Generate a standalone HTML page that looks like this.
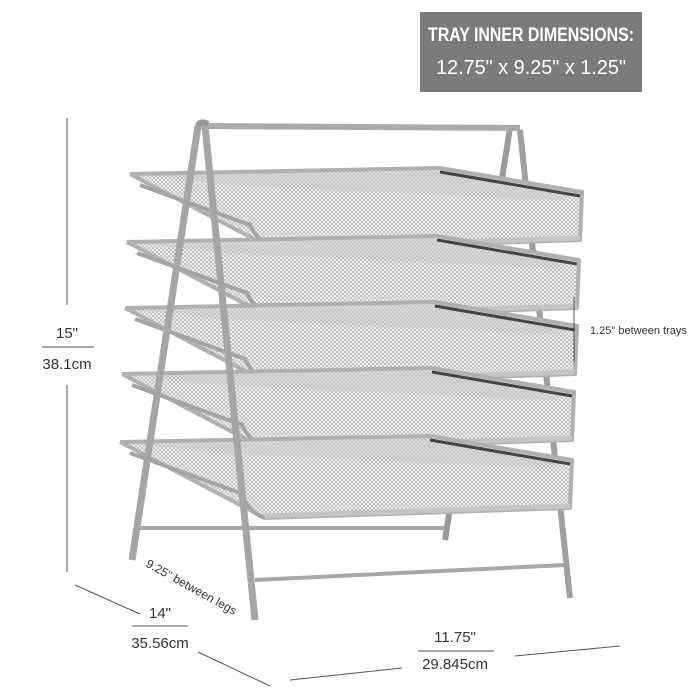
<!DOCTYPE html>
<html><head><meta charset="utf-8"><style>
html,body{margin:0;padding:0;background:#fff;}
svg{display:block;}
text{font-family:"Liberation Sans",sans-serif;fill:#333;}
</style></head><body>
<svg width="700" height="700" viewBox="0 0 700 700" xmlns="http://www.w3.org/2000/svg">
<defs>
<pattern id="mesh" width="4" height="4" patternUnits="userSpaceOnUse">
<rect width="4" height="4" fill="#ececec"/>
<path d="M0 0L4 4M4 0L0 4" stroke="#9a9a9a" stroke-width="0.5"/>
</pattern>
<g id="tray">
<polygon points="130,174 440,168 582,192 580,240 275,250" fill="url(#mesh)"/>
<polygon points="130,174 440,168 582,192 560,200 230,185" fill="#c8c8c8" opacity="0.5"/>
<polyline points="130,174 440,168 582,192 580,240 275,250 130,174" fill="none" stroke="#b0b0b0" stroke-width="4" stroke-linejoin="round"/>
<path d="M275,250 Q260,245 250,225 L140,185" fill="none" stroke="#a4a4a4" stroke-width="4"/>
<line x1="440" y1="172" x2="580" y2="196" stroke="#444" stroke-width="3"/>
<line x1="275" y1="248" x2="580" y2="238" stroke="#c4c4c4" stroke-width="5"/>
</g>
</defs>

<rect x="420" y="12" width="222" height="80" fill="#7b7b7b"/>
<text x="531" y="41" text-anchor="middle" font-size="19" font-weight="bold" style="fill:#fff" textLength="206" lengthAdjust="spacingAndGlyphs">TRAY INNER DIMENSIONS:</text>
<text x="531" y="74" text-anchor="middle" font-size="20" style="fill:#fff" textLength="190" lengthAdjust="spacingAndGlyphs">12.75" x 9.25" x 1.25"</text>

<line x1="67" y1="118" x2="67" y2="305" stroke="#555" stroke-width="1"/>
<line x1="67" y1="385" x2="67" y2="572" stroke="#555" stroke-width="1"/>
<text x="67" y="338" text-anchor="middle" font-size="15">15"</text>
<line x1="42" y1="347" x2="94" y2="347" stroke="#555"/>
<text x="67" y="369" text-anchor="middle" font-size="15">38.1cm</text>

<line x1="510" y1="128" x2="445" y2="540" stroke="#9a9a9a" stroke-width="6"/>
<line x1="520" y1="130" x2="570" y2="598" stroke="#a0a0a0" stroke-width="6"/>
<line x1="140" y1="528" x2="445" y2="528" stroke="#a8a8a8" stroke-width="4"/>

<use href="#tray"/>
<use href="#tray" transform="translate(-3,68)"/>
<use href="#tray" transform="translate(-5,134)"/>
<use href="#tray" transform="translate(-8,200)"/>
<use href="#tray" transform="translate(-10,268)"/>

<line x1="200" y1="126" x2="520" y2="128" stroke="#aaa" stroke-width="6"/>
<line x1="198" y1="126" x2="132" y2="560" stroke="#a5a5a5" stroke-width="7"/>
<line x1="205" y1="126" x2="255" y2="620" stroke="#a5a5a5" stroke-width="7"/>
<line x1="255" y1="580" x2="565" y2="565" stroke="#a8a8a8" stroke-width="4"/>
<path d="M198,126 Q200,120 208,124" fill="none" stroke="#999" stroke-width="6"/>

<line x1="574" y1="297" x2="574" y2="362" stroke="#555"/>
<text x="590" y="334" font-size="11">1.25" between trays</text>

<text transform="translate(145,566) rotate(29)" font-size="12">9.25" between legs</text>
<line x1="75" y1="585" x2="140" y2="614" stroke="#555"/>
<text x="160" y="618" text-anchor="middle" font-size="15">14"</text>
<line x1="132" y1="626" x2="188" y2="626" stroke="#555"/>
<text x="160" y="648" text-anchor="middle" font-size="15">35.56cm</text>
<line x1="198" y1="652" x2="270" y2="686" stroke="#555"/>

<text x="455" y="642" text-anchor="middle" font-size="15">11.75"</text>
<line x1="418" y1="651" x2="494" y2="651" stroke="#555"/>
<text x="455" y="669" text-anchor="middle" font-size="15">29.845cm</text>
<line x1="290" y1="680" x2="402" y2="668" stroke="#555"/>
<line x1="515" y1="656" x2="620" y2="646" stroke="#555"/>
</svg>
</body></html>
